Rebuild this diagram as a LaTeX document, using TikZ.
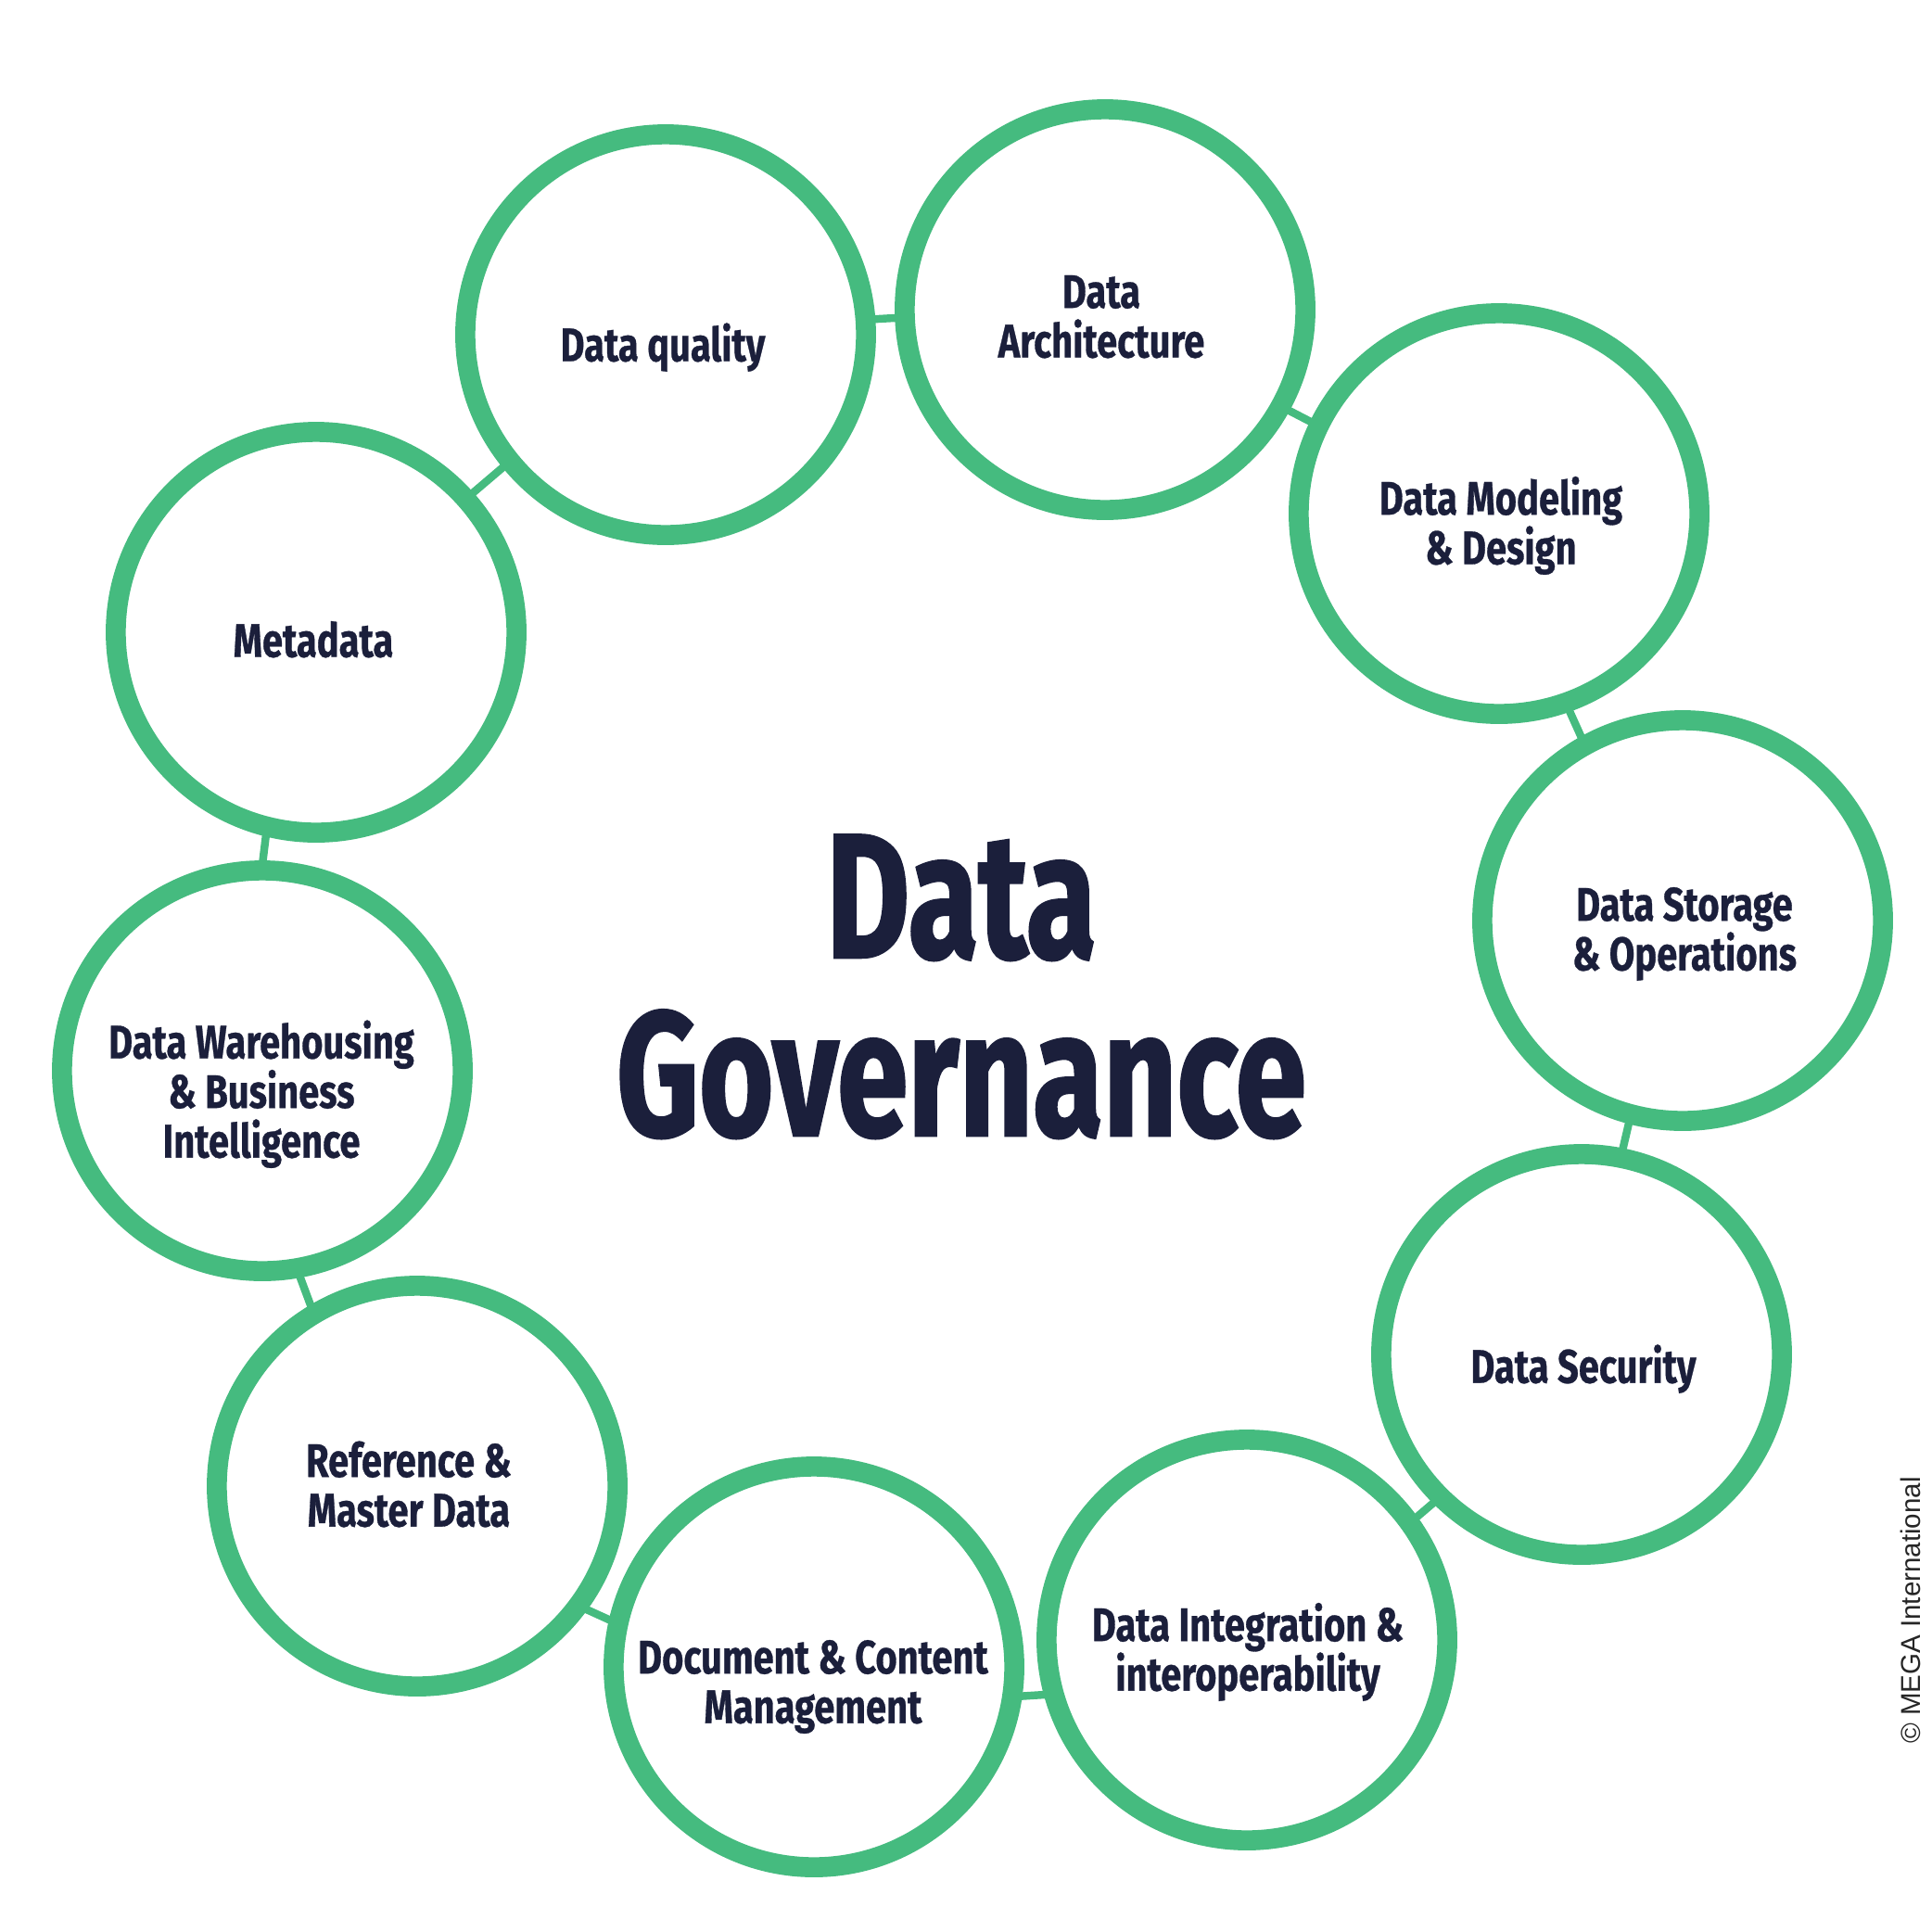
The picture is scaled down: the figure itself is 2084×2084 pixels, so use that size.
\documentclass[tikz,border=0pt]{standalone}
\usepackage{fontspec}
\usetikzlibrary{calc}
\newfontfamily\condfont{Fira Sans}[FakeStretch=0.785,FakeBold=0.6]
\newfontfamily\titlefont{Fira Sans}[FakeStretch=0.72,FakeBold=1.2]
\setsansfont{Liberation Sans}
\definecolor{ringgreen}{HTML}{45BB7F}
\definecolor{navy}{HTML}{1B1F3B}
\begin{document}
\begin{tikzpicture}[x=0.01cm,y=-0.01cm,
  ring/.style={circle,draw=ringgreen,line width=6.15pt,minimum size=4.32cm,inner sep=0pt,outer sep=0pt},
  link/.style={draw=ringgreen,line width=2.4pt},
  lbl/.style={text=navy,align=center,font=\condfont\bfseries\fontsize{14.45}{15.2}\selectfont,text height=10pt,text depth=0pt,inner sep=0pt},
  title/.style={text=navy,align=center,font=\titlefont\bfseries\fontsize{54.5}{54.6}\selectfont,text height=37.6pt,text depth=0pt,inner sep=0pt}]
\useasboundingbox (0,0) rectangle (2084,2084);
% connector mid points
\coordinate (m12) at (957,343);
\coordinate (m23) at (1399,448);
\coordinate (m34) at (1697,781);
\coordinate (m45) at (1753,1225);
\coordinate (m56) at (1539,1630);
\coordinate (m67) at (1116,1834);
\coordinate (m78) at (644,1747);
\coordinate (m89) at (325,1394);
\coordinate (m910) at (282,915);
\coordinate (m101) at (525,518);
% circles
\node[ring] (c1) at (718,361) {};
\node[ring] (c2) at (1192,334) {};
\node[ring] (c3) at (1617,554) {};
\node[ring] (c4) at (1815,993) {};
\node[ring] (c5) at (1706,1461) {};
\node[ring] (c6) at (1345,1769) {};
\node[ring] (c7) at (878,1798) {};
\node[ring] (c8) at (450,1603) {};
\node[ring] (c9) at (283,1155) {};
\node[ring] (c10) at (341,682) {};
% connectors (straight bars between neighbouring rings)
\draw[link] ($(m12)!0.25cm!(c1)$) -- ($(m12)!0.25cm!(c2)$);
\draw[link] ($(m23)!0.25cm!(c2)$) -- ($(m23)!0.25cm!(c3)$);
\draw[link] ($(m34)!0.25cm!(c3)$) -- ($(m34)!0.25cm!(c4)$);
\draw[link] ($(m45)!0.25cm!(c4)$) -- ($(m45)!0.25cm!(c5)$);
\draw[link] ($(m56)!0.25cm!(c5)$) -- ($(m56)!0.25cm!(c6)$);
\draw[link] ($(m67)!0.25cm!(c6)$) -- ($(m67)!0.25cm!(c7)$);
\draw[link] ($(m78)!0.25cm!(c7)$) -- ($(m78)!0.25cm!(c8)$);
\draw[link] ($(m89)!0.25cm!(c8)$) -- ($(m89)!0.25cm!(c9)$);
\draw[link] ($(m910)!0.25cm!(c9)$) -- ($(m910)!0.25cm!(c10)$);
\draw[link] ($(m101)!0.33cm!(c10)$) -- ($(m101)!0.33cm!(c1)$);
% labels (positioned at the mid-cap of the last line)
\node[lbl] (t1) at (715,372) {Data quality};
\node[lbl] (t2) at (1188,368) {Data\\Architecture};
\node[lbl] (t3) at (1619,591) {Data Modeling\\\& Design};
\node[lbl] (t4) at (1817,1029) {Data Storage\\\& Operations};
\node[lbl] (t5) at (1708,1474) {Data Security};
\node[lbl] (t6) at (1346,1806) {Data Integration \&\\interoperability};
\node[lbl] (t7) at (877,1841) {Document \& Content\\Management};
\node[lbl] (t8) at (441,1629) {Reference \&\\Master Data};
\node[lbl] (t9) at (282,1231) {Data Warehousing\\\& Business\\Intelligence};
\node[lbl] (t10) at (338,691) {Metadata};
% title
\node[title] (main) at (1037,1159) {Data\\Governance};
% copyright
\node[rotate=90,text=black!85,font=\sffamily\fontsize{8.4}{9}\selectfont,inner sep=0pt] (copy) at (2061,1737) {© MEGA International};
\end{tikzpicture}
\end{document}
